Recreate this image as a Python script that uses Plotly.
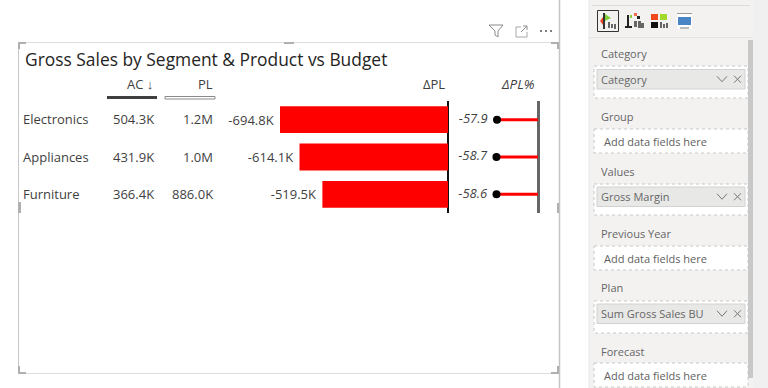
import plotly.graph_objects as go

categories = ["Electronics", "Appliances", "Furniture"]
ac_labels = ["504.3K", "431.9K", "366.4K"]
pl_labels = ["1.2M", "1.0M", "886.0K"]
delta_pl = [-694.8, -614.1, -519.5]
delta_pl_labels = ["-694.8K", "-614.1K", "-519.5K"]
delta_pct = [-57.9, -58.7, -58.6]
delta_pct_labels = ["-57.9", "-58.7", "-58.6"]

W, H = 768, 388
FONT = "Open Sans"
TXT = "#3f3f3f"

def px(x): return x / W
def py(y): return 1 - y / H

fig = go.Figure()
fig.add_trace(go.Bar(
    y=categories, x=delta_pl, orientation="h", width=0.72,
    marker=dict(color="#ff0000", line=dict(width=0)),
    text=[t + " " for t in delta_pl_labels], textposition="outside", cliponaxis=False,
    textfont=dict(family=FONT, size=13, color=TXT),
    xaxis="x", yaxis="y", showlegend=False))
fig.add_trace(go.Scatter(
    y=categories, x=delta_pct, mode="markers+text",
    marker=dict(color="black", size=8),
    error_x=dict(type="data", symmetric=False, array=[-v for v in delta_pct],
                 arrayminus=[0, 0, 0], color="#ff0000", thickness=3, width=0),
    text=[t + " " for t in delta_pct_labels], textposition="middle left", cliponaxis=False,
    textfont=dict(family=FONT, size=13, color=TXT, style="italic"),
    xaxis="x2", yaxis="y", showlegend=False))

yax = dict(domain=[py(213), py(101)], type="category", categoryorder="array",
           categoryarray=categories, range=[2.5, -0.5], visible=False)
fig.update_layout(
    width=W, height=H, autosize=False,
    margin=dict(l=0, r=0, t=0, b=0),
    paper_bgcolor="white", plot_bgcolor="rgba(0,0,0,0)",
    xaxis=dict(domain=[px(280), px(448)], range=[-694.8, 0], showgrid=False,
               showticklabels=False, ticks="", showline=False,
               zeroline=True, zerolinecolor="#111111", zerolinewidth=2, anchor="y"),
    xaxis2=dict(domain=[px(490), px(538)], range=[-67.8, 0], showgrid=False,
                showticklabels=False, ticks="", showline=False,
                zeroline=True, zerolinecolor="#666666", zerolinewidth=3, anchor="y"),
    yaxis=yax,
)

shapes = []
def rect(x0, y0, x1, y1, fill, line=None, lw=0, dash=None, layer="below"):
    ln = dict(width=lw, color=line or "rgba(0,0,0,0)")
    if dash: ln["dash"] = dash
    shapes.append(dict(type="rect", xref="paper", yref="paper", x0=px(x0), x1=px(x1),
                       y0=py(y0), y1=py(y1), fillcolor=fill, line=ln, layer=layer))
def seg(x0, y0, x1, y1, color, lw=1, layer="below"):
    shapes.append(dict(type="line", xref="paper", yref="paper", x0=px(x0), x1=px(x1),
                       y0=py(y0), y1=py(y1), line=dict(color=color, width=lw), layer=layer))

texts = []
def label(x, y, s, size=13, color=TXT, anchor="left", italic=False):
    if italic: s = "<i>" + s + "</i>"
    if anchor == "left": x -= 2
    texts.append(dict(xref="paper", yref="paper", x=px(x), y=py(y), text=s, showarrow=False,
                      xanchor=anchor, yanchor="middle", xshift=0,
                      font=dict(family=FONT, size=size, color=color)))

# visual frame
seg(18.5, 42, 18.5, 373, "#c8c8c8", 1)
seg(18, 42.5, 559, 42.5, "#dddddd", 1)
seg(18, 373.5, 559, 373.5, "#dddddd", 1)
seg(559.5, 0, 559.5, 388, "#c4c4c4", 1.5)
for a in [(18, 42, 26, 44), (18, 42, 20, 49), (18, 372, 26, 374), (18, 366, 20, 374),
          (551, 42, 559, 44), (557, 42, 559, 49), (551, 372, 559, 374), (557, 366, 559, 374),
          (284, 42, 294, 44), (18, 203, 20, 213), (557, 203, 559, 213), (18, 202, 21, 213)]:
    rect(*a, "#b0b0b0")

# visual header icons
shapes.append(dict(type="path", xref="paper", yref="paper",
                   path=f"M {px(489)} {py(25)} L {px(503)} {py(25)} L {px(498)} {py(31)} L {px(498)} {py(37)} L {px(495)} {py(35)} L {px(495)} {py(31)} Z",
                   line=dict(color="#8a8a8a", width=1)))
rect(516, 27, 527, 37, "rgba(0,0,0,0)", "#a8a8a8", 1)
rect(521, 25, 529, 32, "white", None, 0)
seg(521, 32, 527, 26, "#8f8f8f", 1)
seg(523, 26, 527, 26, "#8f8f8f", 1)
seg(527, 26, 527, 30, "#8f8f8f", 1)
for x in (541, 546, 551):
    rect(x - 1, 30, x + 1, 32, "#808080")

# column headers
rect(107, 96, 157, 99, "#404040")
rect(165, 96.5, 215, 99, "white", "#8a8a8a", 1)
label(155, 84, "AC ↓", anchor="right", size=13)
label(215, 84, "PL", anchor="right", size=13)
label(447, 84, "ΔPL", anchor="right", size=13)
label(537, 84, "ΔPL%", anchor="right", size=13.5, italic=True)
label(25, 58.5, "Gross Sales by Segment &amp; Product vs Budget", size=17.4, color="#252423")

# table columns
for i, c in enumerate(categories):
    y = 119 + 37.5 * i
    label(23, y, c)
    label(156, y, ac_labels[i], anchor="right")
    label(215, y, pl_labels[i], anchor="right")

# right-hand panel
rect(589, 0, 753, 388, "#f3f2f1")
rect(753, 0, 768, 388, "#f0f0f0")
seg(589, 0, 589, 388, "#e6e6e6", 1)
seg(589, 37.5, 753, 37.5, "#e4e4e4", 1)
seg(592, 5.5, 750, 5.5, "#dddddd", 1, )

# field wells
DASH = "#c8c8c8"
def well(top, bottom, fill="white"):
    rect(594, top, 748, bottom, fill, DASH, 1, "dot")
def chip(top, bottom, s):
    rect(597, top, 745, bottom, "#e8e8e7", "#d2d2d2", 1)
    label(600.5, (top + bottom) / 2, s, size=11, color="#666666")
    cy = (top + bottom) / 2
    seg(717, cy - 3, 722, cy + 2.5, "#777777", 1)
    seg(722, cy + 2.5, 727, cy - 3, "#777777", 1)
    seg(734, cy - 3.5, 741, cy + 3.5, "#777777", 1)
    seg(734, cy + 3.5, 741, cy - 3.5, "#777777", 1)

label(600.5, 53.5, "Category", size=11, color="#666666")
well(66, 98); chip(69.5, 89, "Category")
label(600.5, 116, "Group", size=11, color="#666666")
well(129, 153); label(603.5, 141.5, "Add data fields here", size=11, color="#5f5f5f")
label(600.5, 171, "Values", size=11, color="#666666")
well(184, 215); chip(187, 206.5, "Gross Margin")
label(600.5, 233, "Previous Year", size=11, color="#666666")
well(246, 270); label(603.5, 258.5, "Add data fields here", size=11, color="#5f5f5f")
label(600.5, 287.5, "Plan", size=11, color="#666666")
well(301, 333); chip(304, 323.5, "Sum Gross Sales BU")
label(600.5, 351, "Forecast", size=11, color="#666666")
well(363, 387); label(603.5, 375.5, "Add data fields here", size=11, color="#5f5f5f")
rect(748, 40, 753, 378, "#c8c8c8")

# panel tabs / icons
rect(597.5, 10.5, 618.5, 31.5, "rgba(0,0,0,0)", "#333333", 1)
rect(603, 13, 605, 29, "#333333")
shapes.append(dict(type="path", xref="paper", yref="paper",
                   path=f"M {px(603)} {py(17)} L {px(600)} {py(21)} L {px(603)} {py(25)} Z",
                   fillcolor="#ef4b2b", line=dict(width=0)))
shapes.append(dict(type="path", xref="paper", yref="paper",
                   path=f"M {px(605)} {py(14)} L {px(611)} {py(18)} L {px(605)} {py(21)} Z",
                   fillcolor="#7fd13b", line=dict(width=0)))
for bx, by, bh in [(608, 22, 6), (611, 24, 4), (614, 24, 5)]:
    rect(bx, by, bx + 2, by + bh, "#666666")
rect(627, 15, 629, 27, "#222222")
rect(625, 26, 632, 28, "#222222")
rect(630, 15, 632, 18, "#7fd13b")
rect(634, 13, 637, 16, "#ef6b4b")
rect(637, 16, 640, 19, "#222222")
for bx, by, bh in [(634, 21, 6), (638, 21, 7), (641, 23, 5)]:
    rect(bx, by, bx + 3, by + bh, "#666666")
rect(651, 14, 658, 20, "#f04a1c")
rect(660, 14, 667, 20, "#a3d92b")
rect(651, 22, 658, 28, "#111111")
for bx, by, bh in [(660, 22, 6), (663, 24, 4), (666, 23, 5)]:
    rect(bx, by, bx + 2, by + bh, "#666666")
rect(677, 13, 692, 29, "white")
rect(678, 17, 691, 25, "#4a86c5")
seg(677, 13.5, 692, 13.5, "#9a9a9a", 1)
seg(680, 28, 689, 28, "#777777", 1)

fig.update_layout(shapes=shapes, annotations=texts)
fig.write_html("out.html", config=dict(displayModeBar=False),
               post_script="document.body.style.margin='0';document.documentElement.style.overflow='hidden';")
